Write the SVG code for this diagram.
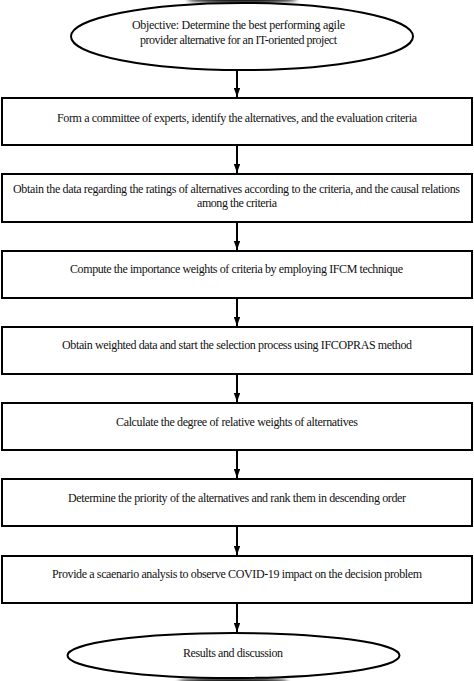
<svg xmlns="http://www.w3.org/2000/svg" width="474" height="681" viewBox="0 0 474 681">
<style>
.box{fill:#fff;stroke:#000;stroke-width:2}
.ell{fill:#fff;stroke:#000;stroke-width:2}
text{font-family:"Liberation Serif","Times New Roman",serif;font-size:12px;fill:#111;text-anchor:middle}
.conn line{stroke:#000;stroke-width:2}
</style>
<defs>
<marker id="ah" viewBox="0 0 10 7" refX="10" refY="3.5" markerWidth="9" markerHeight="6.3" markerUnits="userSpaceOnUse" orient="auto">
<path d="M0,0 L10,3.5 L0,7 Z" fill="#000"/>
</marker>
<filter id="blur" x="-50%" y="-200%" width="200%" height="500%"><feGaussianBlur stdDeviation="2"/></filter>
</defs>
<rect width="474" height="681" fill="#fff"/>
<ellipse cx="242" cy="-1" rx="55" ry="4" fill="#000" filter="url(#blur)"/>
<ellipse cx="233" cy="682" rx="55" ry="4" fill="#000" filter="url(#blur)"/>
<g id="start">
<ellipse class="ell" cx="242" cy="36.5" rx="171" ry="33.5"/>
<text x="238.5" y="29" textLength="213">Objective: Determine the best performing agile</text>
<text x="238.5" y="44" textLength="197">provider alternative for an IT-oriented project</text>
</g>
<g id="step1">
<rect class="box" x="2" y="98" width="470" height="47"/>
<text x="237" y="122" textLength="360">Form a committee of experts, identify the alternatives, and the evaluation criteria</text>
</g>
<g id="step2">
<rect class="box" x="2" y="174" width="470" height="48"/>
<text x="236.5" y="192.5" textLength="447">Obtain the data regarding the ratings of alternatives according to the criteria, and the causal relations</text>
<text x="237" y="206.5" textLength="80">among the criteria</text>
</g>
<g id="step3">
<rect class="box" x="2" y="251" width="470" height="47"/>
<text x="236.5" y="273" textLength="333">Compute the importance weights of criteria by employing IFCM technique</text>
</g>
<g id="step4">
<rect class="box" x="2" y="327" width="470" height="47"/>
<text x="237" y="349" textLength="350">Obtain weighted data and start the selection process using IFCOPRAS method</text>
</g>
<g id="step5">
<rect class="box" x="2" y="403" width="470" height="47"/>
<text x="237" y="426" textLength="242">Calculate the degree of relative weights of alternatives</text>
</g>
<g id="step6">
<rect class="box" x="2" y="479" width="470" height="47"/>
<text x="237" y="502" textLength="338">Determine the priority of the alternatives and rank them in descending order</text>
</g>
<g id="step7">
<rect class="box" x="2" y="556" width="470" height="47"/>
<text x="237" y="578" textLength="370">Provide a scaenario analysis to observe COVID-19 impact on the decision problem</text>
</g>
<g id="end">
<ellipse class="ell" cx="233.5" cy="655.5" rx="166" ry="22.5"/>
<text x="233" y="657" textLength="100">Results and discussion</text>
</g>
<g class="conn" id="connectors">
<line x1="237" y1="70" x2="237" y2="97" marker-end="url(#ah)"/>
<line x1="237" y1="146" x2="237" y2="173" marker-end="url(#ah)"/>
<line x1="237" y1="223" x2="237" y2="250" marker-end="url(#ah)"/>
<line x1="237" y1="299" x2="237" y2="326" marker-end="url(#ah)"/>
<line x1="237" y1="375" x2="237" y2="402" marker-end="url(#ah)"/>
<line x1="237" y1="451" x2="237" y2="478" marker-end="url(#ah)"/>
<line x1="237" y1="527" x2="237" y2="555" marker-end="url(#ah)"/>
<line x1="237" y1="604" x2="237" y2="632" marker-end="url(#ah)"/>
</g>
</svg>
